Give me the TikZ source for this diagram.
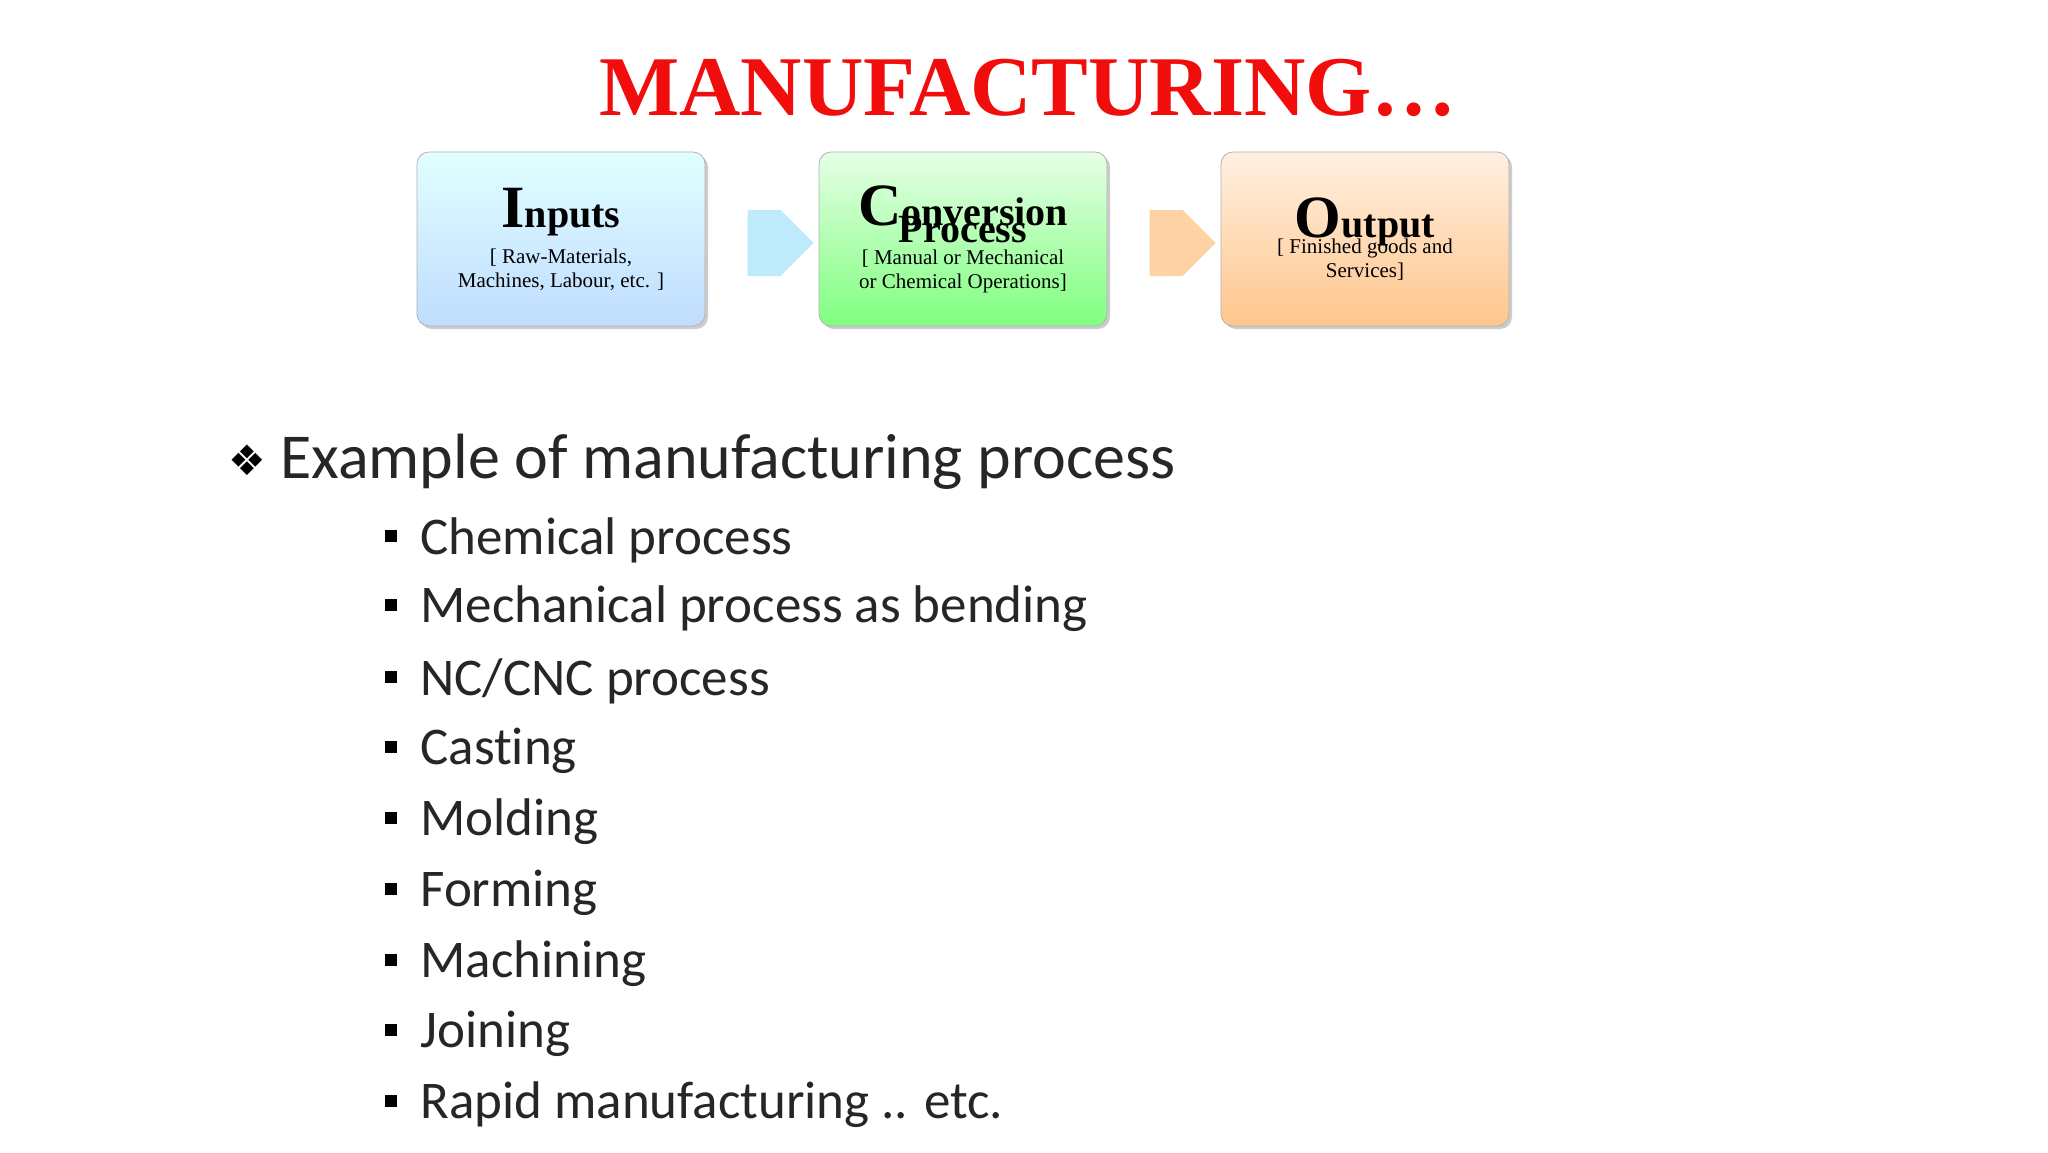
\documentclass[tikz,border=0pt]{standalone}
\usepackage{fontspec}
\setmainfont{Liberation Serif}
\newfontfamily\bodyfont[Ligatures=NoCommon]{Carlito}
\newfontfamily\symfont{DejaVu Sans}
\usetikzlibrary{shapes.arrows}
\definecolor{titlered}{HTML}{F20D0D}
\newcommand{\smtxt}{\fontsize{10.5}{11.5}\selectfont}
\newcommand{\bigtxt}{\bfseries\fontsize{30}{30}\selectfont}
\newcommand{\medtxt}{\bfseries\fontsize{20}{24}\selectfont}
\tikzset{
  procbox/.style={draw=gray!60, rounded corners=6pt, minimum width=144pt, minimum height=87pt, align=center, inner sep=2pt},
  shadowbox/.style={fill=black!20, rounded corners=6pt, minimum width=144pt, minimum height=87pt, inner sep=0pt},
  flowarrow/.style={single arrow, minimum width=33pt, single arrow head extend=0pt, minimum height=33pt, inner sep=0pt, draw=none},
  item/.style={anchor=west, font=\bodyfont\fontsize{26.5}{30}\selectfont, text=black!85, inner sep=0pt},
  sq/.style={fill=black, minimum size=6pt, inner sep=0pt}
}
\begin{document}
\begin{tikzpicture}[x=0.5pt,y=-0.5pt]
\useasboundingbox[fill=white] (0,0) rectangle (2048,1152);
\node[font=\bfseries\fontsize{42.5}{48}\selectfont, text=titlered] (title) at (1028,88) {MANUFACTURING…};
\node[shadowbox] (s1) at (564,242) {};
\node[shadowbox] (s2) at (966,242) {};
\node[shadowbox] (s3) at (1368,242) {};
\node[procbox, top color=cyan!12, bottom color=cyan!45!blue!25!white] (inp) at (561,239)
  {\bigtxt I\medtxt nputs\\[6pt] \smtxt [ Raw-Materials,\\ \smtxt Machines, Labour, etc. ]};
\node[procbox, top color=green!10, bottom color=green!50!white] (conv) at (963,239)
  {\bigtxt C\medtxt onversion\\[-6pt] \medtxt Process\\[-1pt] \smtxt [ Manual or Mechanical\\ \smtxt or Chemical Operations]};
\node[procbox, top color=orange!12, bottom color=orange!45!white] (out) at (1365,239)
  {\bigtxt O\medtxt utput\\[-4pt] \smtxt [ Finished goods and\\ \smtxt Services]};
\node[flowarrow, fill=cyan!25] (a1) at (764,243) {};
\node[flowarrow, fill=orange!35] (a2) at (1166,243) {};
\node[anchor=west, font=\symfont\fontsize{21}{21}\selectfont, inner sep=0pt] (dia) at (228,460) {❖};
\node[anchor=west, font=\bodyfont\fontsize{32}{36}\selectfont, text=black!85, inner sep=0pt] (head) at (280,462) {Example of manufacturing process};
\foreach \y/\t [count=\i] in {540/{Chemical process},609/{Mechanical process as bending},681/{NC/CNC process},751/{Casting},822/{Molding},893/{Forming},964/{Machining},1034/{Joining},1105/{Rapid manufacturing .. etc.}}{
  \node[sq] (b\i) at (391,\y-4) {};
  \node[item] (t\i) at (420,\y) {\t};
}
\end{tikzpicture}
\end{document}
